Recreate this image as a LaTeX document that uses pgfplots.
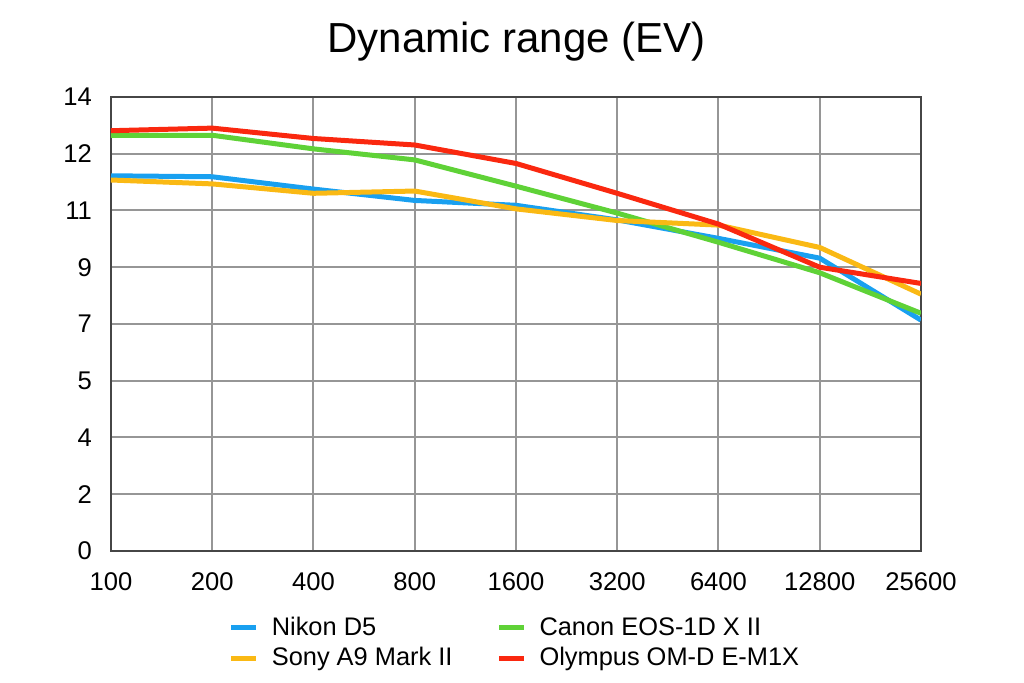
\documentclass[border=0pt]{standalone}
\usepackage{pgfplots}
\pgfplotsset{compat=1.18}
\usepackage{fontspec}
\setmainfont{Liberation Sans}
\definecolor{cblue}{RGB}{25,160,240}
\definecolor{cyellow}{RGB}{250,185,20}
\definecolor{cgreen}{RGB}{95,210,55}
\definecolor{cred}{RGB}{250,40,15}
\definecolor{gridc}{RGB}{150,150,150}
\definecolor{axc}{RGB}{70,70,70}
\begin{document}
\begin{tikzpicture}
\path (-55.5pt,-66pt) rectangle (456.5pt,275.5pt);
\begin{axis}[
  at={(0pt,0pt)}, anchor=south west,
  scale only axis, width=405pt, height=227pt,
  xmin=0, xmax=8, ymin=0, ymax=14,
  xtick={0,1,2,3,4,5,6,7,8},
  xticklabels={100,200,400,800,1600,3200,6400,12800,25600},
  ytick={0,1.75,3.5,5.25,7,8.75,10.5,12.25,14},
  yticklabels={0,2,4,5,7,9,11,12,14},
  tick style={draw=none},
  grid=major,
  major grid style={draw=gridc, line width=1pt},
  axis line style={draw=axc, line width=1pt},
  ticklabel style={font=\fontsize{12.8}{14}\selectfont},
  /pgf/number format/assume math mode=true,
  yticklabel style={xshift=-6pt},
  xticklabel style={yshift=-7.5pt},
  legend columns=2,
  legend style={draw=none, fill=none, at={(axis description cs:0.5,-0.2025)}, anchor=center,
    font=\fontsize{12.7}{13}\selectfont, row sep=0.5pt,
    /tikz/every odd column/.append style={column sep=4.5pt},
    /tikz/every even column/.append style={column sep=20pt}},
  legend cell align=left,
  legend image code/.code={\draw[#1, line width=2.5pt] (0pt,0pt) -- (12.5pt,0pt);},
  every axis plot/.append style={line width=2.5pt, line join=round},
]
\addplot[cblue] coordinates {(0,11.57) (1,11.54) (2,11.16) (3,10.81) (4,10.66) (5,10.21) (6,9.64) (7,9.03) (8,7.12)};
\addlegendentry{Nikon D5}
\addplot[cgreen] coordinates {(0,12.82) (1,12.82) (2,12.40) (3,12.06) (4,11.25) (5,10.42) (6,9.52) (7,8.58) (8,7.33)};
\addlegendentry{Canon EOS-1D X II}
\addplot[cyellow] coordinates {(0,11.44) (1,11.32) (2,11.03) (3,11.10) (4,10.55) (5,10.19) (6,10.05) (7,9.36) (8,7.92)};
\addlegendentry{Sony A9 Mark II}
\addplot[cred] coordinates {(0,12.96) (1,13.04) (2,12.72) (3,12.52) (4,11.95) (5,11.03) (6,10.08) (7,8.75) (8,8.25)};
\addlegendentry{Olympus OM-D E-M1X}
\end{axis}
\node at (202.75pt,254.5pt) {\fontsize{21}{25}\selectfont Dynamic range (EV)};
\end{tikzpicture}
\end{document}
